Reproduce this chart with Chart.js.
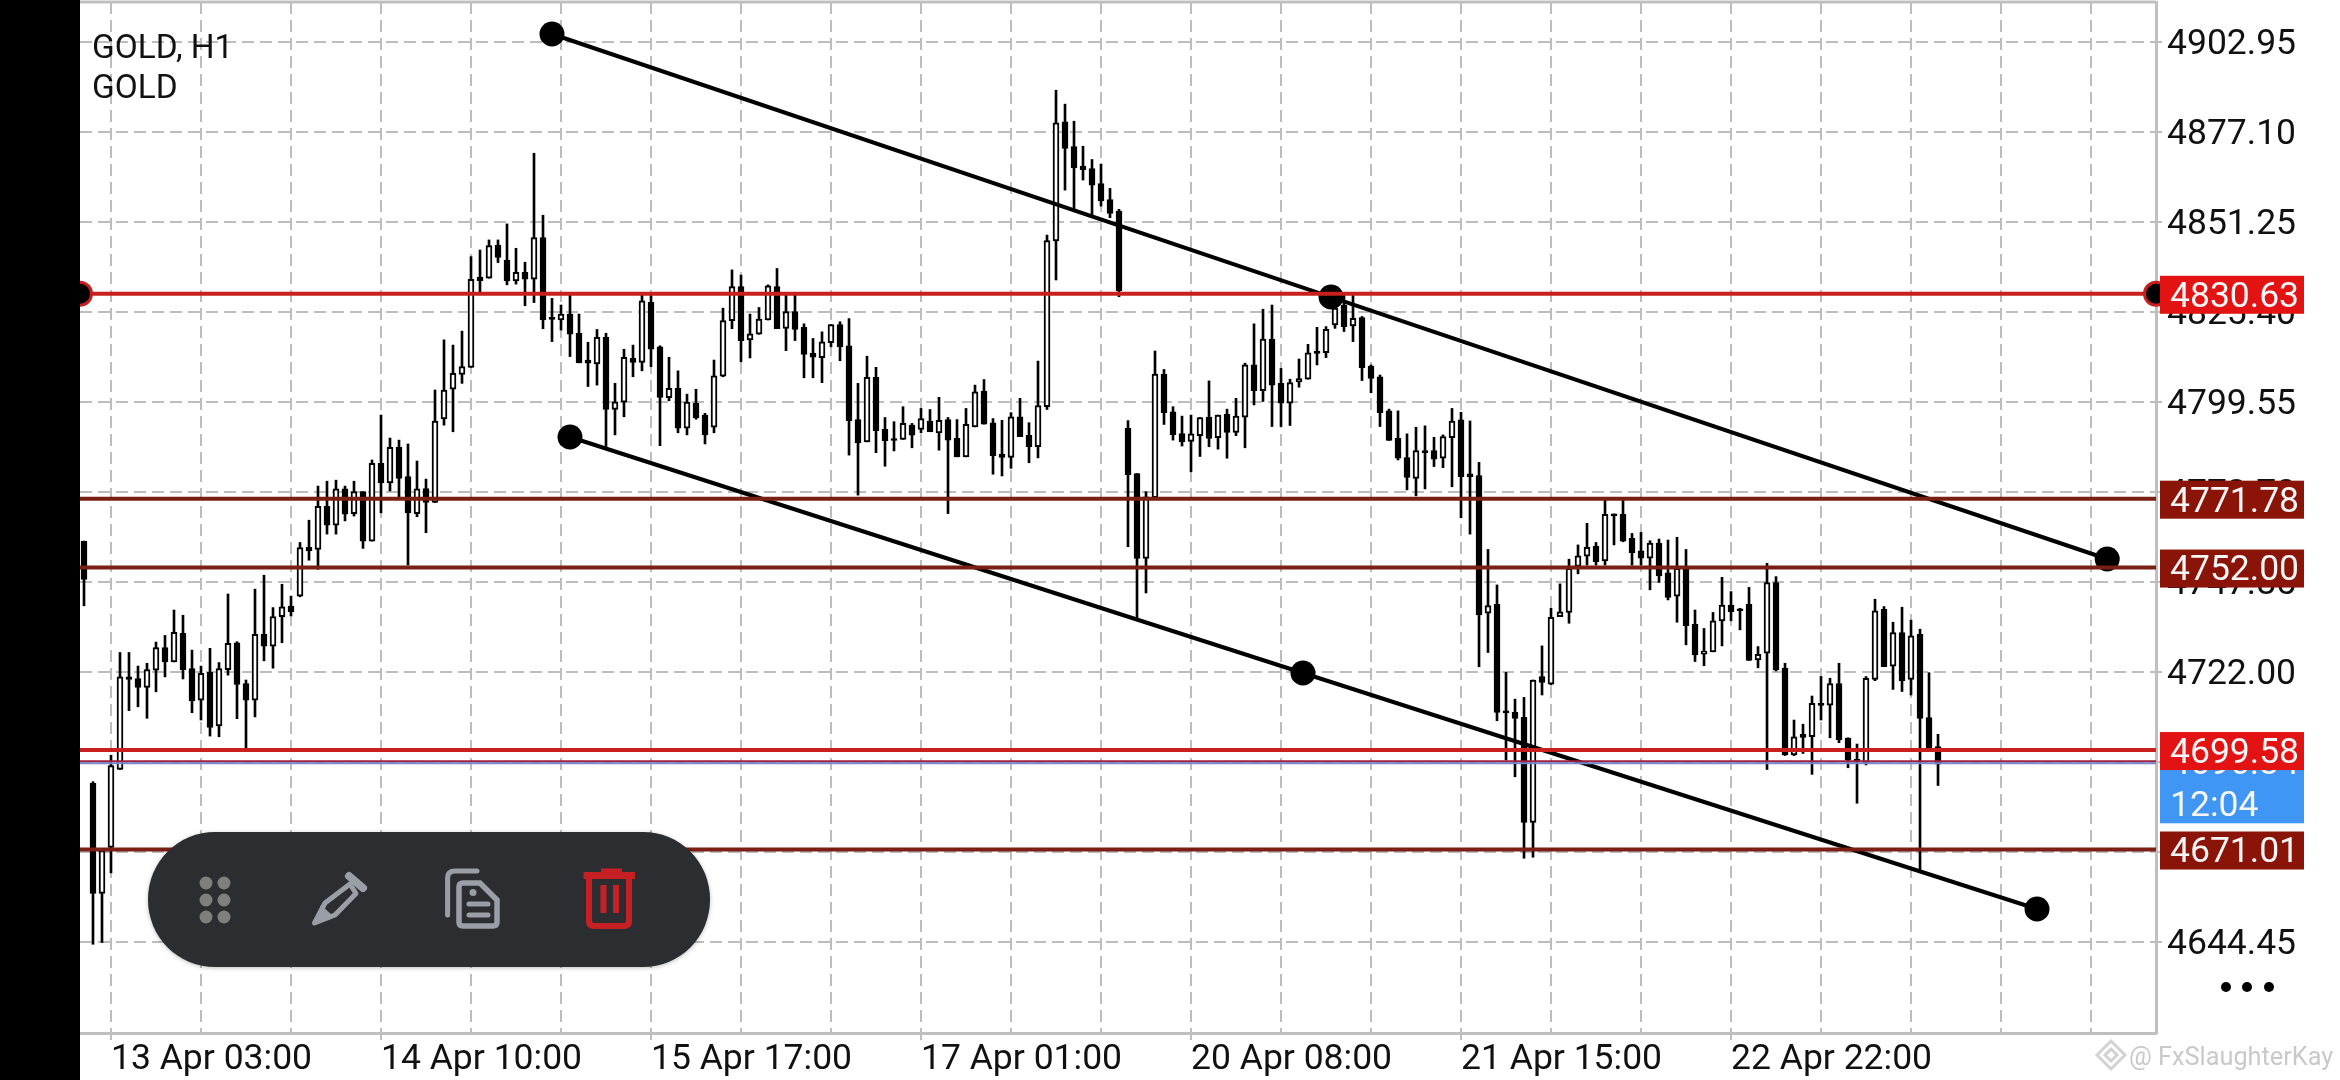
<!DOCTYPE html>
<html>
<head>
<meta charset="utf-8">
<title>GOLD, H1</title>
<script src="https://cdn.jsdelivr.net/npm/chart.js@4"></script>
<style>
  html, body { margin: 0; padding: 0; background: #fff; width: 2340px; height: 1080px; overflow: hidden; }
  #strip { position: absolute; left: 0; top: 0; width: 80px; height: 1080px; background: #000; z-index: 2; }
  #tempChart { position: absolute; left: 0; top: 0; }
  #overlay { position: absolute; left: 0; top: 0; pointer-events: none; }
  #symbol { position: absolute; left: 92px; top: 27px; font: 33.4px/40px Roboto, sans-serif; color: #111; }
</style>
</head>
<body>
<div id="strip"></div>
<canvas id="tempChart" width="2340" height="1080"></canvas>
<div id="symbol">GOLD, H1<br>GOLD</div>
<svg id="overlay" width="2340" height="1080">
  <rect x="148" y="832" width="562" height="135" rx="67" fill="#2c2d30" style="filter:drop-shadow(0 1px 2px rgba(0,0,0,.25))"/>
  <g fill="#7f7f7b">
    <circle cx="206" cy="883" r="6.5"/><circle cx="224" cy="883" r="6.5"/>
    <circle cx="206" cy="900" r="6.5"/><circle cx="224" cy="900" r="6.5"/>
    <circle cx="206" cy="917" r="6.5"/><circle cx="224" cy="917" r="6.5"/>
  </g>
  <g stroke="#9a9ea6" fill="none">
    <path d="M314.5 923 L325 903 L350 884 L356 893.5 L335 915 Z" stroke-width="5" stroke-linejoin="round"/>
    <path d="M349 876 L363 888" stroke-width="8" stroke-linecap="round"/>
    <path d="M447.6 915 V878 Q447.6 871 455 871 H477" stroke-width="5" stroke-linecap="round"/>
    <path d="M459 887 Q459 883 463 883 H480 L497 900 V922 Q497 926 493 926 H463 Q459 926 459 922 Z" stroke-width="5.5"/>
    <path d="M469 904 H488 M469 915 H488" stroke-width="5" stroke-linecap="round"/>
  </g>
  <circle cx="473" cy="892.5" r="3.5" fill="#9a9ea6"/>
  <path d="M314.5 923 L321 905 L333 916 Z" fill="#9a9ea6"/>
  <g stroke="#c62025" fill="none">
    <path d="M583.5 875.5 H635" stroke-width="7"/>
    <path d="M601 871 H622" stroke-width="5"/>
    <path d="M589 879 V921 Q589 926 594 926 H624 Q629 926 629 921 V879" stroke-width="6"/>
    <path d="M603.5 885 V913 M616 885 V913" stroke-width="6"/>
  </g>
  <g fill="#000"><circle cx="2226" cy="987" r="5"/><circle cx="2247" cy="987" r="5"/><circle cx="2269" cy="987" r="5"/></g>
  <g stroke="#d2d2d2" stroke-width="3" fill="none">
    <path d="M2111 1041 L2125 1055 L2111 1069 L2097 1055 Z"/>
    <path d="M2111 1049 L2117 1055 L2111 1061 L2105 1055 Z"/>
  </g>
  <text x="2129" y="1065" font-family="Roboto" font-size="25.3" fill="#c9c9c9">@ FxSlaughterKay</text>
</svg>
<script>
const opens = [
  4759.6,4690.0,4658.4,4671.6,4694.0,4720.6,4720.1,4717.6,4722.5,4729.0,
  4724.9,4733.1,4723.0,4713.9,4721.9,4706.5,4722.7,4730.4,4718.7,4713.9,
  4732.8,4729.4,4737.9,4740.9,4743.8,4757.8,4757.2,4769.6,4764.2,4774.6,
  4767.5,4773.8,4759.6,4781.9,4776.3,4786.5,4778.1,4767.5,4774.7,4770.7,
  4794.7,4803.2,4807.5,4809.5,4835.4,4835.1,4844.6,4840.3,4834.3,4836.8,
  4834.8,4846.8,4823.7,4823.1,4824.8,4819.3,4811.6,4810.5,4818.1,4797.4,
  4799.5,4812.1,4810.9,4828.2,4815.4,4800.8,4803.5,4792.0,4799.2,4795.8,
  4792.3,4807.0,4822.9,4832.7,4817.4,4819.0,4823.1,4832.7,4820.7,4825.5,
  4821.0,4813.5,4812.3,4816.6,4821.8,4815.7,4794.5,4788.1,4806.6,4791.7,
  4789.0,4788.8,4792.9,4791.7,4794.1,4790.7,4794.5,4789.1,4783.8,4792.4,
  4802.7,4793.6,4784.6,4783.6,4795.3,4790.0,4786.7,4798.2,4845.8,4880.0,
  4872.9,4867.3,4866.6,4862.3,4857.7,4854.4,4792.0,4779.0,4754.6,4772.1,
  4807.6,4796.7,4790.5,4788.2,4789.9,4795.2,4789.3,4796.0,4790.8,4795.2,
  4810.2,4802.8,4817.6,4804.9,4799.2,4805.3,4806.1,4814.2,4813.7,4821.7,
  4827.4,4821.4,4823.8,4809.9,4806.8,4797.0,4789.1,4783.6,4777.6,4785.6,
  4785.6,4783.4,4789.3,4794.4,4778.9,4778.4,4738.9,4741.4,4710.8,4710.4,
  4709.0,4678.8,4720.7,4718.5,4737.9,4739.1,4752.3,4755.3,4758.2,4753.9,
  4767.4,4767.3,4760.4,4756.8,4754.7,4759.0,4750.5,4743.8,4751.8,4735.7,
  4727.1,4727.8,4736.7,4741.2,4740.0,4741.4,4725.5,4727.4,4747.7,4723.1,
  4698.2,4704.1,4703.4,4713.0,4712.5,4718.7,4703.0,4696.9,4696.0,4719.9,
  4740.0,4723.7,4733.3,4719.9,4732.8,4708.9,4700.6
];
const highs = [
  4759.6,4690.5,4670.7,4698.1,4727.6,4727.6,4723.7,4724.5,4730.6,4732.5,
  4739.8,4738.3,4728.3,4723.7,4728.8,4724.7,4744.4,4730.7,4719.7,4745.8,
  4749.8,4740.5,4747.2,4743.8,4759.2,4765.6,4775.4,4776.8,4777.1,4775.4,
  4776.8,4773.8,4782.9,4795.8,4789.2,4788.6,4787.5,4782.6,4777.4,4803.0,
  4817.4,4815.9,4819.9,4841.3,4843.2,4846.1,4846.1,4850.7,4843.7,4839.7,
  4871.0,4853.2,4829.3,4827.4,4830.3,4824.8,4816.7,4820.4,4819.3,4804.9,
  4814.7,4815.9,4830.3,4830.3,4815.7,4812.4,4808.5,4801.8,4803.2,4796.3,
  4811.6,4826.5,4837.5,4836.0,4824.8,4826.7,4833.2,4837.9,4830.3,4830.3,
  4822.0,4817.8,4819.7,4821.8,4822.6,4823.5,4804.9,4812.7,4809.5,4795.1,
  4793.9,4798.2,4793.4,4797.7,4797.4,4800.9,4795.1,4794.5,4797.7,4804.4,
  4806.0,4794.8,4794.3,4796.5,4800.6,4793.6,4811.3,4847.5,4889.1,4885.1,
  4880.2,4873.0,4869.2,4867.9,4860.9,4854.9,4794.2,4779.0,4773.8,4814.2,
  4808.9,4798.2,4795.5,4795.8,4795.1,4805.6,4795.8,4797.5,4800.6,4810.7,
  4822.0,4826.2,4827.4,4809.2,4806.1,4811.9,4816.1,4821.0,4821.2,4828.9,
  4830.3,4830.3,4824.1,4810.2,4807.3,4797.5,4797.0,4790.4,4792.3,4792.7,
  4789.4,4790.1,4797.7,4796.6,4794.1,4782.2,4757.2,4747.0,4721.9,4714.2,
  4714.7,4719.7,4729.5,4740.3,4747.3,4754.4,4758.5,4764.7,4759.2,4771.9,
  4767.4,4771.4,4761.8,4762.1,4759.7,4760.2,4759.9,4760.7,4757.2,4739.8,
  4734.5,4739.1,4749.2,4745.1,4740.3,4746.3,4729.3,4753.2,4749.4,4724.5,
  4708.2,4707.0,4715.1,4720.7,4720.2,4724.5,4703.1,4701.3,4720.7,4742.9,
  4740.8,4736.3,4740.6,4736.9,4734.3,4721.8,4704.1
];
const lows = [
  4741.0,4643.8,4644.3,4664.3,4694.0,4710.9,4712.0,4708.7,4716.3,4720.6,
  4724.9,4720.0,4710.3,4708.2,4703.6,4703.4,4721.1,4708.6,4700.0,4709.1,
  4725.2,4723.1,4730.4,4738.1,4743.6,4754.1,4751.5,4761.6,4761.6,4765.4,
  4766.8,4757.5,4759.6,4767.7,4774.0,4772.3,4752.7,4766.6,4762.0,4770.7,
  4792.9,4791.0,4804.9,4809.5,4831.0,4835.1,4839.6,4833.2,4833.4,4827.2,
  4828.1,4820.6,4816.9,4820.2,4812.6,4810.8,4804.0,4804.4,4786.7,4790.1,
  4795.3,4806.8,4808.5,4809.7,4787.0,4799.9,4790.7,4790.1,4794.6,4787.5,
  4790.7,4806.8,4820.6,4811.1,4812.2,4819.0,4823.1,4820.6,4814.3,4817.2,
  4806.5,4806.5,4805.1,4815.4,4811.4,4784.3,4772.8,4788.1,4785.0,4781.1,
  4785.5,4788.8,4786.4,4790.7,4791.0,4785.7,4767.5,4783.8,4783.8,4792.4,
  4793.2,4778.8,4778.3,4780.5,4789.6,4782.1,4783.5,4797.4,4834.6,4860.4,
  4855.1,4863.3,4853.2,4855.8,4852.5,4829.8,4758.0,4737.2,4744.7,4772.1,
  4793.1,4788.6,4786.9,4779.5,4783.9,4786.7,4786.0,4783.4,4789.9,4786.4,
  4798.7,4799.7,4792.5,4792.5,4792.8,4803.8,4806.1,4810.2,4812.3,4820.7,
  4819.8,4816.9,4805.7,4802.2,4792.5,4788.5,4782.9,4774.3,4772.6,4774.6,
  4781.0,4780.7,4775.2,4766.3,4761.6,4723.5,4727.6,4708.0,4696.7,4691.9,
  4668.5,4668.8,4715.4,4718.3,4737.9,4736.0,4750.2,4752.7,4752.7,4752.7,
  4758.5,4759.4,4752.7,4752.7,4745.6,4747.7,4742.7,4736.3,4729.8,4725.0,
  4723.8,4727.8,4729.5,4736.7,4734.1,4725.3,4723.2,4694.0,4722.3,4698.0,
  4698.0,4698.6,4692.6,4708.2,4703.1,4701.7,4694.5,4684.3,4695.3,4719.5,
  4723.5,4717.0,4716.4,4715.4,4665.1,4699.8,4689.4
];
const closes = [
  4748.6,4658.4,4670.7,4695.1,4720.6,4719.9,4717.6,4722.7,4729.0,4724.9,
  4733.4,4722.7,4713.7,4721.6,4706.1,4723.0,4730.2,4718.4,4713.9,4732.8,
  4729.4,4737.9,4740.7,4739.3,4757.7,4756.8,4769.6,4764.2,4774.6,4767.3,
  4773.8,4759.6,4781.9,4776.3,4786.5,4777.6,4767.7,4774.6,4770.7,4794.1,
  4803.0,4807.8,4809.7,4834.8,4834.4,4844.5,4841.1,4834.3,4836.8,4834.8,
  4846.8,4823.1,4823.3,4824.8,4819.0,4810.8,4810.7,4818.1,4797.4,4799.6,
  4812.4,4810.9,4828.6,4814.7,4800.9,4803.5,4792.0,4799.5,4795.0,4790.1,
  4807.1,4822.9,4832.7,4817.2,4819.1,4823.4,4832.9,4820.6,4825.5,4820.4,
  4813.2,4812.4,4816.8,4821.8,4815.4,4794.2,4787.8,4806.6,4791.3,4788.4,
  4788.5,4793.4,4790.0,4794.8,4791.0,4794.3,4788.6,4783.8,4793.1,4802.5,
  4793.2,4784.1,4783.6,4795.3,4789.6,4786.7,4798.5,4845.9,4879.7,4872.4,
  4866.8,4866.3,4861.8,4857.3,4853.7,4831.5,4778.7,4754.6,4772.3,4807.6,
  4796.5,4790.2,4788.1,4790.4,4795.1,4789.1,4795.8,4790.8,4795.5,4810.2,
  4802.8,4817.6,4804.4,4799.2,4805.1,4806.3,4813.7,4813.5,4820.4,4826.5,
  4821.2,4823.6,4809.4,4806.3,4796.5,4788.5,4783.4,4777.9,4785.6,4785.0,
  4783.1,4789.6,4794.1,4778.1,4778.1,4738.4,4741.1,4710.4,4710.3,4708.7,
  4678.8,4719.7,4719.0,4737.7,4739.3,4751.8,4755.4,4757.8,4753.7,4767.3,
  4766.8,4759.6,4756.3,4754.7,4759.0,4749.6,4743.4,4751.8,4735.3,4726.9,
  4728.0,4736.7,4741.2,4739.3,4739.6,4725.3,4727.1,4747.7,4722.6,4698.2,
  4703.4,4703.2,4713.0,4712.4,4718.7,4702.5,4696.7,4696.2,4720.2,4739.6,
  4723.5,4733.3,4719.5,4732.4,4708.7,4699.8,4695.5
];

// axis labels
const yTicks = [4902.95,4877.10,4851.25,4825.40,4799.55,4773.70,4747.85,4722.00,4696.15,4670.30,4644.45];
const xTickBars = [3,33,63,93,123,153,183];
const xTickLabels = ['13 Apr 03:00','14 Apr 10:00','15 Apr 17:00','17 Apr 01:00','20 Apr 08:00','21 Apr 15:00','22 Apr 22:00'];

// drawn levels
const redLevels = [4830.63, 4699.58];
const darkLevels = [4771.78, 4752.00, 4671.01];
const bidLevel = 4696.35;
const askLevel = 4695.80;

// trend channel, [bar, price]
const upperChannel = [[52, 4905.25], [138.56, 4829.7], [224.8, 4754.46]];
const lowerChannel = [[54, 4789.5], [135.44, 4721.71], [217, 4653.93]];

const xMin = -0.444, xMax = 230.22;
const yMin = 4618.31, yMax = 4914.44;

const RED = '#c8201f', DARK = '#7a1f14';
const labelFont = '35.5px Roboto, sans-serif';

function hline(value, color, width, order, extra) {
  return Object.assign({
    type: 'line',
    data: [{x: xMin, y: value}, {x: xMax, y: value}],
    borderColor: color,
    borderWidth: width,
    pointRadius: 0,
    order: order,
    clip: false
  }, extra || {});
}

function trend(points) {
  return {
    type: 'line',
    data: points.map(p => ({x: p[0], y: p[1]})),
    borderColor: '#000',
    borderWidth: 4,
    pointRadius: 12.5,
    pointBackgroundColor: '#000',
    pointBorderWidth: 0,
    order: 3,
    clip: false
  };
}

// price tags over the right axis
const priceTags = [
  {value: 4830.63, color: '#e31313'},
  {value: 4771.78, color: '#8a1408'},
  {value: 4752.00, color: '#8a1408'},
  {value: bidLevel, color: '#4096f5', text: '4696.34', extra: '12:04'},
  {value: 4699.58, color: '#e31313'},
  {value: 4671.01, color: '#8a1408'}
];

const tagsPlugin = {
  id: 'tags',
  afterDraw(chart) {
    const {ctx, chartArea, scales} = chart;
    const left = chartArea.right + 4, w = 144, h = 38;
    ctx.save();
    ctx.font = labelFont;
    ctx.textBaseline = 'middle';
    priceTags.forEach(t => {
      const y = scales.y.getPixelForValue(t.value);
      ctx.fillStyle = t.color;
      ctx.fillRect(left, y - h / 2 + 1, w, t.extra ? h + 42 : h);
      ctx.fillStyle = '#f6f6f6';
      ctx.fillText(t.text || t.value.toFixed(2), left + 10, y + 4);
      if (t.extra) ctx.fillText(t.extra, left + 10, y + 46);
    });
    ctx.restore();
  }
};

const frameTop = {
  id: 'frameTop',
  beforeDatasetsDraw(chart) {
    const {ctx, chartArea} = chart;
    ctx.save();
    ctx.strokeStyle = '#bfbfbf';
    ctx.lineWidth = 3;
    ctx.beginPath();
    ctx.moveTo(chartArea.left, chartArea.top);
    ctx.lineTo(chartArea.right, chartArea.top);
    ctx.stroke();
    ctx.restore();
  }
};

const ctx = document.getElementById('tempChart').getContext('2d');
new Chart(ctx, {
  data: {
    datasets: [
      {
        type: 'bar',
        data: lows.map((l, i) => ({x: i, y: [l, highs[i]]})),
        backgroundColor: '#000',
        barThickness: 2,
        grouped: false,
        order: 6
      },
      {
        type: 'bar',
        data: opens.map((o, i) => ({x: i, y: [o, closes[i]]})),
        backgroundColor: c => closes[c.dataIndex] > opens[c.dataIndex] ? '#fff' : '#000',
        borderColor: '#000',
        borderWidth: 2,
        borderSkipped: false,
        barThickness: 6,
        minBarLength: 2,
        grouped: false,
        order: 5
      },
      hline(askLevel, '#7a86c8', 2, 2),
      hline(bidLevel, '#a02040', 2, 2),
      ...darkLevels.map(v => hline(v, DARK, 4, 1)),
      hline(redLevels[0], RED, 4, 1, {
        pointRadius: 11.5,
        pointBackgroundColor: '#000',
        pointBorderColor: RED,
        pointBorderWidth: 3
      }),
      hline(redLevels[1], RED, 4, 1),
      trend(upperChannel),
      trend(lowerChannel)
    ]
  },
  options: {
    responsive: false,
    animation: false,
    layout: { autoPadding: false, padding: { left: 80, top: 2, right: 0, bottom: 0 } },
    plugins: { legend: { display: false }, tooltip: { enabled: false }, title: { display: false } },
    scales: {
      x: {
        type: 'linear',
        offset: false,
        min: xMin,
        max: xMax,
        afterBuildTicks: s => {
          const t = [];
          for (let b = 3; b < xMax; b += 10) t.push({value: b});
          s.ticks = t;
        },
        afterFit: s => { s.height = 47; s.paddingLeft = 0; s.paddingRight = 0; },
        grid: {
          offset: false,
          color: '#bdbdbd',
          lineWidth: 2,
          tickLength: 7,
          tickColor: c => xTickBars.includes(c.tick && c.tick.value) ? '#bdbdbd' : 'rgba(0,0,0,0)'
        },
        border: { color: '#bfbfbf', width: 3, dash: [12, 6] },
        ticks: {
          autoSkip: false,
          maxRotation: 0,
          align: 'start',
          padding: -1,
          color: '#111',
          font: { family: 'Roboto', size: 35.5 },
          callback: v => {
            const k = xTickBars.indexOf(v);
            return k < 0 ? '' : xTickLabels[k];
          }
        }
      },
      y: {
        type: 'linear',
        position: 'right',
        min: yMin,
        max: yMax,
        afterBuildTicks: s => { s.ticks = yTicks.map(v => ({value: v})); },
        afterFit: s => { s.width = 184; s.paddingTop = 0; s.paddingBottom = 0; },
        grid: { color: '#bdbdbd', lineWidth: 2, tickLength: 6 },
        border: { color: '#bfbfbf', width: 3, dash: [12, 6] },
        ticks: {
          autoSkip: false,
          padding: 5,
          labelOffset: 3,
          color: '#111',
          font: { family: 'Roboto', size: 35.5 },
          callback: v => v.toFixed(2)
        }
      }
    }
  },
  plugins: [frameTop, tagsPlugin]
});
</script>
</body>
</html>
